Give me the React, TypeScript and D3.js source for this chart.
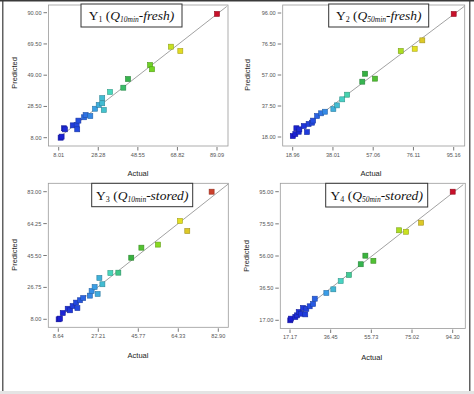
import React from 'react';
import * as d3 from 'd3';

// ---------- data ----------
const actual1 = [89.09, 65.5, 70.3, 54.8, 55.8, 43.5, 41.1, 34.3, 30.3, 30.3, 28.5, 31.1, 26.6, 24.2, 21.8, 21.0, 18.1, 17.2, 15.2, 17.5, 11.2, 10.7, 9.5, 9.0];
const predicted1 = [89.2, 67.7, 64.9, 55.7, 52.9, 46.5, 40.8, 38.0, 34.0, 30.6, 29.5, 26.2, 27.0, 22.2, 22.9, 21.4, 19.2, 16.3, 16.1, 13.5, 13.5, 14.2, 8.7, 8.0];
const xTicks1 = [8.01, 28.28, 48.55, 68.82, 89.09];
const yTicks1 = [8.0, 28.5, 49.0, 69.5, 90.0];

const actual2 = [95.16, 80.3, 76.7, 70.1, 53.2, 51.9, 57.9, 44.7, 42.4, 39.9, 38.2, 34.2, 32.4, 30.5, 28.6, 28.1, 26.5, 24.2, 25.7, 22.1, 21.8, 20.2, 19.0, 20.7];
const predicted2 = [95.4, 78.8, 73.5, 72.1, 57.8, 52.8, 54.7, 44.6, 41.7, 37.9, 35.6, 33.9, 32.9, 31.2, 28.3, 27.0, 26.2, 24.9, 21.1, 22.8, 21.3, 19.9, 18.6, 23.5];
const xTicks2 = [18.96, 38.01, 57.06, 76.11, 95.16];
const yTicks2 = [18.0, 37.5, 57.0, 76.5, 96.0];

const actual3 = [79.8, 65.1, 68.5, 54.9, 47.2, 42.5, 36.5, 32.8, 27.7, 29.1, 25.5, 24.1, 26.9, 23.3, 20.2, 18.7, 16.9, 15.3, 17.5, 14.1, 13.0, 10.7, 9.4, 8.8];
const predicted3 = [83.0, 65.8, 59.9, 51.9, 50.1, 44.2, 35.4, 35.2, 32.3, 28.6, 27.0, 24.6, 22.9, 21.9, 20.5, 19.2, 17.8, 15.8, 14.6, 13.3, 14.2, 11.7, 8.4, 8.0];
const xTicks3 = [8.64, 27.21, 45.77, 64.33, 82.90];
const yTicks3 = [8.0, 26.75, 45.5, 64.25, 83.0];

const actual4 = [94.3, 79.3, 68.9, 72.2, 52.9, 56.7, 50.7, 45.1, 41.2, 37.7, 34.4, 28.9, 28.1, 26.5, 24.9, 23.3, 24.4, 22.4, 21.3, 20.5, 19.7, 17.6, 17.3];
const predicted4 = [95.0, 76.2, 71.6, 70.7, 56.2, 53.1, 51.0, 44.5, 40.8, 35.8, 33.6, 30.1, 26.9, 25.5, 24.0, 24.5, 20.6, 21.0, 22.0, 20.0, 19.0, 18.0, 17.0];
const xTicks4 = [17.17, 36.45, 55.73, 75.02, 94.30];
const yTicks4 = [17.0, 36.5, 56.0, 75.5, 95.0];

const titleIndex = ['1', '2', '3', '4'];
const titleQSub = ['10min', '50min', '10min', '50min'];
const titleState = ['fresh', 'fresh', 'stored', 'stored'];
const xLabel = 'Actual';
const yLabel = 'Predicted';

const series = [
  { actual: actual1, predicted: predicted1, xTicks: xTicks1, yTicks: yTicks1 },
  { actual: actual2, predicted: predicted2, xTicks: xTicks2, yTicks: yTicks2 },
  { actual: actual3, predicted: predicted3, xTicks: xTicks3, yTicks: yTicks3 },
  { actual: actual4, predicted: predicted4, xTicks: xTicks4, yTicks: yTicks4 },
];

// ---------- layout ----------
const layouts = [
  { box: { l: 48.5, r: 228, t: 5, b: 146 }, xr: [58.7, 217], yr: [137.7, 12.7], title: { x: 81, y: 4, w: 101, h: 23 }, ylab: { x: 14, y: 73 }, xlab: { x: 138, y: 176 } },
  { box: { l: 282.7, r: 464.7, t: 5, b: 146 }, xr: [292.7, 453.7], yr: [137, 13], title: { x: 328.7, y: 4, w: 100, h: 23 }, ylab: { x: 247.5, y: 75 }, xlab: { x: 371, y: 176 } },
  { box: { l: 48.3, r: 228.3, t: 183.3, b: 327.3 }, xr: [58.3, 218.3], yr: [319.3, 191.7], title: { x: 91.7, y: 183.3, w: 101, h: 23.4 }, ylab: { x: 14, y: 255 }, xlab: { x: 138, y: 358 } },
  { box: { l: 280.3, r: 465.3, t: 183.3, b: 328.5 }, xr: [290, 452.7], yr: [320.3, 191.7], title: { x: 325.7, y: 183.3, w: 102, h: 23.7 }, ylab: { x: 246.5, y: 256 }, xlab: { x: 371.7, y: 359.5 } },
];

const colorStops = [0, 0.12, 0.22, 0.32, 0.45, 0.6, 0.75, 0.87, 1];
const colorRange = ['#1a1ad2', '#2248e0', '#3a9ae8', '#48d8c0', '#34b040', '#78d820', '#e4e420', '#d4a830', '#c8102a'];

const sans = 'Liberation Sans, Arial, sans-serif';
const serif = 'Liberation Serif, Times New Roman, serif';

function Panel({ idx }: { idx: number }) {
  const s = series[idx];
  const L = layouts[idx];
  const xDom = [s.xTicks[0], s.xTicks[s.xTicks.length - 1]];
  const yDom = [s.yTicks[0], s.yTicks[s.yTicks.length - 1]];
  const x = d3.scaleLinear().domain(xDom).range(L.xr);
  const y = d3.scaleLinear().domain(yDom).range(L.yr);
  const norm = d3.scaleLinear().domain(xDom).range([0, 1]).clamp(true);
  const col = d3.scaleLinear<string>().domain(colorStops).range(colorRange).interpolate(d3.interpolateRgb);
  const b = L.box;
  const clipId = `clip${idx}`;
  const lo = Math.max(xDom[0], yDom[0]);
  const hi = Math.min(xDom[1], yDom[1]) + 5;
  const pts = s.actual.map((a, i) => ({ a, p: s.predicted[i] }));
  const order = pts.slice().sort((m, n) => m.a - n.a);
  const sz = 5;
  return (
    <g>
      <defs>
        <clipPath id={clipId}>
          <rect x={b.l} y={b.t} width={b.r - b.l} height={b.b - b.t} />
        </clipPath>
      </defs>
      <rect x={b.l} y={b.t} width={b.r - b.l} height={b.b - b.t} fill="#fff" stroke="#9a9a9a" strokeWidth={0.8} />
      {/* y ticks */}
      {s.yTicks.map((t, i) => (
        <g key={'y' + i}>
          <line x1={b.l - 5} x2={b.l - 1.5} y1={y(t)} y2={y(t)} stroke="#555" strokeWidth={0.8} />
          <text x={b.l - 7} y={y(t) + 2} fontSize={5.6} fill="#555" textAnchor="end" fontFamily={sans}>{t.toFixed(2)}</text>
        </g>
      ))}
      {/* x ticks */}
      {s.xTicks.map((t, i) => (
        <g key={'x' + i}>
          <line x1={x(t)} x2={x(t)} y1={b.b + 1} y2={b.b + 4.5} stroke="#555" strokeWidth={0.8} />
          <text x={x(t)} y={b.b + 10.8} fontSize={5.6} fill="#555" textAnchor="middle" fontFamily={sans}>{t.toFixed(2)}</text>
        </g>
      ))}
      <text x={L.xlab.x} y={L.xlab.y} fontSize={7.5} fill="#222" textAnchor="middle" fontFamily={sans}>{xLabel}</text>
      <text transform={`translate(${L.ylab.x},${L.ylab.y}) rotate(-90)`} fontSize={7.5} fill="#222" textAnchor="middle" dy={2.6} fontFamily={sans}>{yLabel}</text>
      <g clipPath={`url(#${clipId})`}>
        <line x1={x(lo)} y1={y(lo)} x2={x(hi)} y2={y(hi)} stroke="#8a8a8a" strokeWidth={0.8} />
        {order.map((d, i) => {
          const c = col(norm(d.a));
          const st = d3.color(c)!.darker(0.9).formatHex();
          return (
            <rect key={i} x={x(d.a) - sz / 2} y={y(d.p) - sz / 2} width={sz} height={sz} fill={c} stroke={st} strokeWidth={0.6} />
          );
        })}
      </g>
      {/* title box */}
      <rect x={L.title.x} y={L.title.y} width={L.title.w} height={L.title.h} fill="#fff" stroke="#333" strokeWidth={1} />
      <text x={L.title.x + L.title.w / 2} y={L.title.y + L.title.h / 2 + 4.6} fontSize={13.5} fill="#111" textAnchor="middle" fontFamily={serif}>
        <tspan>Y</tspan>
        <tspan fontSize={8} dy={2}>{titleIndex[idx]}</tspan>
        <tspan dy={-2}> (</tspan>
        <tspan fontStyle="italic">Q</tspan>
        <tspan fontStyle="italic" fontSize={7.5} dy={2}>{titleQSub[idx]}</tspan>
        <tspan fontStyle="italic" dy={-2}>{'-' + titleState[idx]})</tspan>
      </text>
    </g>
  );
}

export default function App() {
  return (
    <svg width={474} height={394} style={{ position: 'absolute', left: 0, top: 0, background: '#fff' }}>
      <rect x={0} y={0} width={474} height={394} fill="#fff" />
      <rect x={0} y={391} width={474} height={3} fill="#e4e4e4" />
      <line x1={0} x2={474} y1={0.8} y2={0.8} stroke="#3a3a3a" strokeWidth={1.6} />
      <line x1={2.8} x2={2.8} y1={0} y2={391} stroke="#3a3a3a" strokeWidth={1.2} />
      <line x1={469.8} x2={469.8} y1={0} y2={391} stroke="#3a3a3a" strokeWidth={1.2} />
      {[0, 1, 2, 3].map((i) => <Panel key={i} idx={i} />)}
    </svg>
  );
}
